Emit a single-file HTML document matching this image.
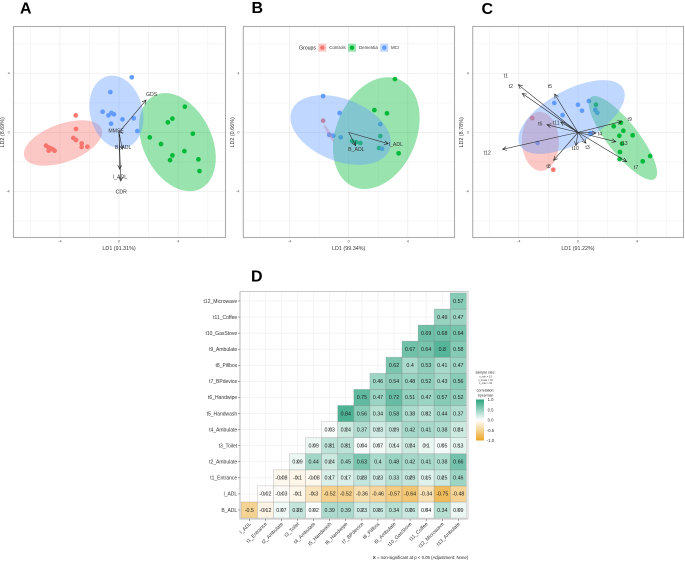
<!DOCTYPE html>
<html lang="en">
<head>
<meta charset="utf-8">
<title>LDA biplots and correlation matrix</title>
<style>
html,body{margin:0;padding:0;background:#fff;}
svg{display:block;font-family:"Liberation Sans",sans-serif;filter:blur(0.3px);}
</style>
</head>
<body>
<svg id="fig" width="685" height="562" viewBox="0 0 685 562" xmlns="http://www.w3.org/2000/svg">
<text x="20" y="13.5" font-size="16" font-weight="700" fill="#000">A</text>
<text x="251.5" y="13" font-size="16" font-weight="700" fill="#000">B</text>
<text x="481.5" y="14" font-size="16" font-weight="700" fill="#000">C</text>
<text x="251" y="281.5" font-size="16" font-weight="700" fill="#000">D</text>
<text x="420.5" y="559" font-size="4.3" text-anchor="middle" fill="#222"><tspan font-weight="700">X</tspan> = non-significant at p &lt; 0.05 (Adjustment: None)</text>
</svg>
<script>
// ---------- Panel A ----------
const aControlsX = [-2.93,-2.91,-3.09,-2.91,-2.53,-2.53,-2.14,-4.94,-4.76,-4.63,-4.49,-4.76,-4.36];
const aControlsY = [1.15,0.23,-0.38,-0.52,-0.75,-0.99,-0.97,-0.90,-1.02,-1.08,-1.15,-1.24,-1.24];
const aDementiaX = [4.45,3.61,3.30,4.99,2.08,2.84,4.42,3.61,3.45,5.37,5.44];
const aDementiaY = [1.74,0.93,0.68,-0.09,-0.34,-0.79,-1.27,-1.56,-1.88,-1.83,-2.62];
const aMciX = [0.86,-0.59,-1.11,-0.52,-0.72,-0.34,-0.54,0.23,0.99,1.24];
const aMciY = [3.73,2.73,1.40,1.31,1.15,1.22,0.59,0.88,0.95,0.09];
const aEllipseControls = [-3.79,-0.72,2.78,1.29,20];
const aEllipseDementia = [3.95,-0.66,3.52,2.32,116];
const aEllipseMci = [-0.18,1.38,2.50,1.78,104];
const aArrowNames = ["GDS","MMSE","B_ADL","l_ADL","CDR"];
const aArrowX = [1.83,-0.04,0.22,0.05,0.12];
const aArrowY = [2.19,0.04,-1.15,-2.5,-3.3];
const aLabelX = [2.2,-0.2,0.28,0.07,0.15];
const aLabelY = [2.6,0.11,-0.99,-3.0,-4.0];
// ---------- Panel B ----------
const bControlsX = [-1.73,-1.31,-1.04];
const bControlsY = [0.79,-0.16,-0.23];
const bDementiaX = [3.13,1.74,2.59,0.23,0.5,0.79,2.14,2.05,3.38];
const bDementiaY = [3.61,1.51,1.29,-0.59,-0.66,-0.72,-0.25,-1.06,-1.42];
const bMciX = [-1.73,-0.61,2.14,-0.54,-1.04,-1.31,2.26];
const bMciY = [2.46,1.31,0.56,-0.34,-0.23,-0.16,-1.11];
const bEllipseControls = [-1.33,-0.07,0.69,0.1,-60];
const bEllipseDementia = [1.87,-0.05,3.95,2.71,67];
const bEllipseMci = [-0.54,0.16,3.57,2.1,-22];
const bArrowNames = ["l_ADL","B_ADL"];
const bArrowX = [2.68,0.47];
const bArrowY = [-0.77,-0.9];
const bLabelX = [3.2,0.52];
const bLabelY = [-0.81,-1.13];
// ---------- Panel C ----------
const cControlsX = [-3.09,-1.67];
const cControlsY = [0.97,-2.53];
const cDementiaX = [1.22,2.42,2.91,3.07,2.8,3.7,2.98,2.84,2.82,4.38,4.88];
const cDementiaY = [1.87,0.41,0.65,0.11,-0.23,-0.2,-0.77,-1.33,-1.81,-1.96,-1.6];
const cMciX = [-1.6,-1.04,0,0.27,0.74,1.17,1.31,-2.73,0.84];
const cMciY = [1.99,1.17,1.87,1.47,2.12,1.53,1.33,-0.72,-0.07];
const cEllipseControls = [-2.54,-0.61,2.0,1.25,92];
const cEllipseDementia = [3.04,-0.38,3.51,1.05,128];
const cEllipseMci = [-0.43,1.04,3.99,1.81,29];
const cArrowNames = ["t1","t2","t5","t11","t6","t12","t8","t10","t3","t4","t9","t13","t7"];
const cArrowX = [-4.04,-3.77,-1.58,-1.17,-2.1,-5.1,-1.65,-0.14,0.54,1.22,2.96,2.57,3.3];
const cArrowY = [3.23,2.64,2.6,0.7,0.52,-1.15,-1.9,-0.9,-0.74,-0.05,0.74,-0.63,-1.99];
const cLabelX = [-4.88,-4.54,-1.9,-1.47,-2.55,-6.14,-1.99,-0.18,0.65,1.49,3.5,3.12,3.93];
const cLabelY = [3.86,3.14,3.14,0.65,0.59,-1.38,-2.28,-1.06,-0.99,-0.07,0.9,-0.72,-2.35];
// ---------- Shared scatter ticks ----------
const groupNames = ["Controls","Dementia","MCI"];
const scatterTicks = [-4,0,4];
const scatterMinorTicks = [-6,-2,2,6];
// ---------- Panel D correlation matrix ----------
const yCategories = ["B_ADL","l_ADL","t1_Entrance","t2_Ambulate","t3_Toilet","t4_Ambulate","t5_Handwash","t6_Handwipe","t7_BPdevice","t8_Pillbox","t9_Ambulate","t10_GasStove","t11_Coffee","t12_Microwave"];
const xCategories = ["l_ADL","t1_Entrance","t2_Ambulate","t3_Toilet","t4_Ambulate","t5_Handwash","t6_Handwipe","t7_BPdevice","t8_Pillbox","t9_Ambulate","t10_GasStove","t11_Coffee","t12_Microwave","t13_Ambulate"];
const corrBADL = [-0.5,-0.12,0.07,0.28,0.02,0.39,0.39,0.23,0.26,0.34,0.26,0.04,0.34,0.09];
const corrLADL = [-0.02,-0.03,-0.1,-0.3,-0.52,-0.52,-0.36,-0.46,-0.57,-0.64,-0.34,-0.75,-0.48];
const corrT1 = [-0.08,-0.1,-0.08,0.17,0.17,0.28,0.23,0.33,0.29,0.15,0.25,0.46];
const corrT2 = [0.09,0.44,0.24,0.45,0.63,0.4,0.48,0.42,0.41,0.38,0.66];
const corrT3 = [0.09,0.31,0.31,0.04,0.07,0.14,0.24,0.1,0.05,0.13];
const corrT4 = [0.03,0.24,0.37,0.23,0.29,0.42,0.41,0.38,0.24];
const corrT5 = [0.84,0.56,0.34,0.58,0.38,0.32,0.44,0.37];
const corrT6 = [0.75,0.47,0.72,0.51,0.47,0.57,0.52];
const corrT7 = [0.46,0.54,0.48,0.52,0.43,0.56];
const corrT8 = [0.62,0.4,0.53,0.41,0.47];
const corrT9 = [0.67,0.64,0.8,0.58];
const corrT10 = [0.69,0.68,0.64];
const corrT11 = [0.49,0.47];
const corrT12 = [0.57];
const corrRows = [corrBADL,corrLADL,corrT1,corrT2,corrT3,corrT4,corrT5,corrT6,corrT7,corrT8,corrT9,corrT10,corrT11,corrT12];
const legendTicks = [1,0.5,0,-0.5,-1];
const legendTickLabels = ["1.0","0.5","0.0","-0.5","-1.0"];
const sampleSizeLines = ["n_min = 23","n_mode = 34","n_max = 34"];

const NS = "http://www.w3.org/2000/svg";
const fig = document.getElementById("fig");
function mk(tag, parent, attrs) {
  const e = document.createElementNS(NS, tag);
  for (const k in attrs) e.setAttribute(k, attrs[k]);
  parent.appendChild(e);
  return e;
}
function linear(d0, d1, r0, r1) {
  return v => r0 + (v - d0) * (r1 - r0) / (d1 - d0);
}
const groupColors = ["#F8766D","#00BA38","#619CFF"];

function drawScatter(cfg) {
  const g = mk("g", fig, {});
  
  
  const xS = linear(cfg.xDomain[0], cfg.xDomain[1], cfg.left, cfg.right);
  const yS = linear(cfg.yDomain[0], cfg.yDomain[1], cfg.bottom, cfg.top);
  mk("rect", g, {x:cfg.left, y:cfg.top, width:cfg.right-cfg.left, height:cfg.bottom-cfg.top, fill:"#fff"});
  scatterMinorTicks.concat(scatterTicks).forEach((t, i) => {
    const c = i < scatterMinorTicks.length ? "#f4f4f4" : "#ebebeb";
    const vl = mk("line", g, {x1:xS(t), x2:xS(t), y1:cfg.top, y2:cfg.bottom, stroke:c, "stroke-width":0.7});
    
    
    const hl = mk("line", g, {y1:yS(t), y2:yS(t), x1:cfg.left, x2:cfg.right, stroke:c, "stroke-width":0.7});
    
    
  });
  cfg.points.forEach((p, gi) => {
    p[0].forEach((vx, i) => {
      const dot = mk("circle", g, {cx:xS(vx), cy:yS(p[1][i]), r:2.35, fill:groupColors[gi]});
      
      
    });
  });
  cfg.ellipses.forEach((el, gi) => {
    const th = el[4] * Math.PI / 180;
    let d = "";
    for (let s = 0; s < 72; s++) {
      const t = s / 72 * 2 * Math.PI;
      const dx = el[2]*Math.cos(t)*Math.cos(th) - el[3]*Math.sin(t)*Math.sin(th);
      const dy = el[2]*Math.cos(t)*Math.sin(th) + el[3]*Math.sin(t)*Math.cos(th);
      d += (s ? "L" : "M") + xS(el[0]+dx).toFixed(2) + " " + yS(el[1]+dy).toFixed(2);
    }
    const path = mk("path", g, {d:d+"Z", fill:groupColors[gi], "fill-opacity":0.4});
    
    
  });
  cfg.arrowNames.forEach((name, i) => {
    const x0 = xS(0), y0 = yS(0), x1 = xS(cfg.arrowX[i]), y1 = yS(cfg.arrowY[i]);
    const ang = Math.atan2(y1-y0, x1-x0), h = 4.6, sp = 0.45;
    const hx1 = x1 - h*Math.cos(ang-sp), hy1 = y1 - h*Math.sin(ang-sp);
    const hx2 = x1 - h*Math.cos(ang+sp), hy2 = y1 - h*Math.sin(ang+sp);
    const arrow = mk("path", g, {d:`M${x0} ${y0}L${x1} ${y1}M${hx1} ${hy1}L${x1} ${y1}L${hx2} ${hy2}`, fill:"none", stroke:"#2a2a2a", "stroke-width":0.6});
    
    
    const lb = mk("text", g, {x:xS(cfg.labelX[i]), y:yS(cfg.labelY[i])+1.9, "font-size":5.2, "text-anchor":"middle", fill:"#333"});
    lb.textContent = name;
    
    
  });
  const border = mk("rect", g, {x:cfg.left, y:cfg.top, width:cfg.right-cfg.left, height:cfg.bottom-cfg.top, fill:"none", stroke:"#adadad", "stroke-width":1.1});
  
  
  scatterTicks.forEach(t => {
    const xt = mk("text", g, {x:xS(t), y:cfg.bottom+4.8, "font-size":3.8, "text-anchor":"middle", fill:"#555"});
    xt.textContent = t;
    
    
    const yt = mk("text", g, {x:cfg.left-3.8, y:yS(t)+1.3, "font-size":3.8, "text-anchor":"end", fill:"#555"});
    yt.textContent = t;
    
    
  });
  const xTitle = mk("text", g, {x:xS(0), y:cfg.bottom+12.5, "font-size":5.4, "text-anchor":"middle", fill:"#333"});
  xTitle.textContent = cfg.xTitle;
  
  
  const ytx = cfg.left - 9.5, yty = yS(0);
  const yTitle = mk("text", g, {x:ytx, y:yty, "font-size":5.4, "text-anchor":"middle", fill:"#333", transform:`rotate(-90 ${ytx} ${yty})`});
  yTitle.textContent = cfg.yTitle;
  
  
}
const yDom = [-7.12,7.17];
drawScatter({name:"panel-a-biplot", left:13.5, right:225.5, top:26.5, bottom:237.5, xDomain:[-7.14,7.2], yDomain:yDom,
  points:[[aControlsX,aControlsY],[aDementiaX,aDementiaY],[aMciX,aMciY]],
  ellipses:[aEllipseControls,aEllipseDementia,aEllipseMci],
  arrowNames:aArrowNames, arrowX:aArrowX, arrowY:aArrowY, labelX:aLabelX, labelY:aLabelY,
  xTitle:"LD1 (91.31%)", yTitle:"LD2 (8.69%)"});
drawScatter({name:"panel-b-biplot", left:243.3, right:454.5, top:26.5, bottom:237.5, xDomain:[-7.13,7.16], yDomain:yDom,
  points:[[bControlsX,bControlsY],[bDementiaX,bDementiaY],[bMciX,bMciY]],
  ellipses:[bEllipseControls,bEllipseDementia,bEllipseMci],
  arrowNames:bArrowNames, arrowX:bArrowX, arrowY:bArrowY, labelX:bLabelX, labelY:bLabelY,
  xTitle:"LD1 (99.34%)", yTitle:"LD2 (0.66%)"});
drawScatter({name:"panel-c-biplot", left:472.7, right:683.5, top:26.5, bottom:237.5, xDomain:[-7.12,7.14], yDomain:yDom,
  points:[[cControlsX,cControlsY],[cDementiaX,cDementiaY],[cMciX,cMciY]],
  ellipses:[cEllipseControls,cEllipseDementia,cEllipseMci],
  arrowNames:cArrowNames, arrowX:cArrowX, arrowY:cArrowY, labelX:cLabelX, labelY:cLabelY,
  xTitle:"LD1 (91.22%)", yTitle:"LD2 (8.78%)"});

// Groups legend in panel B
(function () {
  const g = mk("g", fig, {});
  
  
  const ly = 47.7;
  const title = mk("text", g, {x:299, y:ly+1.8, "font-size":5.2, fill:"#222"});
  title.textContent = "Groups";
  
  
  const keyX = [322.3,352,384.3];
  const textX = [329.3,359,391];
  groupNames.forEach((n, i) => {
    const bg = mk("rect", g, {x:keyX[i]-4, y:ly-4, width:8, height:8, fill:groupColors[i], "fill-opacity":0.4});
    
    
    const dot = mk("circle", g, {cx:keyX[i], cy:ly, r:2.2, fill:groupColors[i]});
    
    
    const t = mk("text", g, {x:textX[i], y:ly+1.5, "font-size":4.4, fill:"#333"});
    t.textContent = n;
    
    
  });
})();

// Panel D
function corrColor(v) {
  const hi = [43,163,127], lo = [235,166,36];
  const c = v >= 0 ? hi : lo, a = Math.abs(v);
  const m = i => Math.round(255 + (c[i]-255)*a);
  return `rgb(${m(0)},${m(1)},${m(2)})`;
}
(function () {
  const g = mk("g", fig, {});
  
  
  const L = 240, R = 468, T = 291.5, B = 519;
  const colX = i => 249.3 + 16.08 * i;
  const rowY = i => 510 - 16.08 * i;
  const sz = 16.08;
  xCategories.forEach((c, i) => {
    const l = mk("line", g, {x1:colX(i), x2:colX(i), y1:T, y2:B, stroke:"#efefef", "stroke-width":0.7});
    
    
  });
  yCategories.forEach((c, i) => {
    const l = mk("line", g, {y1:rowY(i), y2:rowY(i), x1:L, x2:R, stroke:"#efefef", "stroke-width":0.7});
    
    
  });
  corrRows.forEach((row, r) => {
    row.forEach((v, j) => {
      const col = r + j;
      const cell = mk("rect", g, {x:colX(col)-sz/2, y:rowY(r)-sz/2, width:sz, height:sz, fill:corrColor(v), stroke:"rgba(110,110,110,.3)", "stroke-width":0.7});
      
      
      const t = mk("text", g, {x:colX(col), y:rowY(r)+1.8, "font-size":5.3, "text-anchor":"middle", fill:"#222"});
      t.textContent = String(v);
      
      
      if (Math.abs(v) < 0.33) {
        const x = mk("text", g, {x:colX(col), y:rowY(r)+2.5, "font-size":8, "text-anchor":"middle", fill:"#333", "fill-opacity":0.6});
        x.textContent = "×";
        
        
      }
    });
  });
  const fr1 = mk("path", g, {d:`M${L} ${T}H${R}V${B}`, fill:"none", stroke:"#c9c9c9", "stroke-width":0.9});
  
  
  const fr2 = mk("path", g, {d:`M${L} ${T}V${B}H${R}`, fill:"none", stroke:"#bdbdbd", "stroke-width":1.1});
  
  
  yCategories.forEach((c, i) => {
    const tk = mk("line", g, {x1:L-2, x2:L, y1:rowY(i), y2:rowY(i), stroke:"#555", "stroke-width":0.5});
    
    
    const t = mk("text", g, {x:L-2.8, y:rowY(i)+1.8, "font-size":5, "text-anchor":"end", fill:"#333"});
    t.textContent = c;
    
    
  });
  xCategories.forEach((c, i) => {
    const tk = mk("line", g, {x1:colX(i), x2:colX(i), y1:B, y2:B+2, stroke:"#555", "stroke-width":0.5});
    
    
    const px = colX(i)+2, py = B+5.2;
    const t = mk("text", g, {x:px, y:py, "font-size":5, "text-anchor":"end", fill:"#333", transform:`rotate(-45 ${px} ${py})`});
    t.textContent = c;
    
    
  });

  // Legend
  const lg = mk("g", g, {});
  
  
  const defs = mk("defs", lg, {});
  const grad = mk("linearGradient", defs, {id:"corrGrad", x1:0, y1:0, x2:0, y2:1});
  legendTicks.forEach((v, i) => {
    mk("stop", grad, {offset:(i/(legendTicks.length-1)*100)+"%", "stop-color":corrColor(v)});
  });
  const bar = mk("rect", lg, {x:476, y:399.5, width:8, height:41, fill:"url(#corrGrad)"});
  
  
  const legY = linear(1, -1, 399.5, 440.5);
  legendTicks.forEach((v, i) => {
    const t = mk("text", lg, {x:490.5, y:legY(v)+1.5, "font-size":4.2, "text-anchor":"middle", fill:"#333"});
    t.textContent = legendTickLabels[i];
    
    
  });
  const t1 = mk("text", lg, {x:485.5, y:373.5, "font-size":3.6, "text-anchor":"middle", fill:"#222"});
  t1.textContent = "sample size:";
  
  
  sampleSizeLines.forEach((s, i) => {
    const t = mk("text", lg, {x:485.5, y:377.6+i*3.2, "font-size":2.5, "text-anchor":"middle", fill:"#333"});
    t.textContent = s;
    
    
  });
  const t2 = mk("text", lg, {x:485.5, y:391.5, "font-size":3.6, "text-anchor":"middle", fill:"#222"});
  t2.textContent = "correlation:";
  
  
  const t3 = mk("text", lg, {x:485.5, y:396.5, "font-size":3.4, "text-anchor":"middle", fill:"#333"});
  t3.textContent = "Spearman";
  
  
})();
</script>
</body>
</html>
